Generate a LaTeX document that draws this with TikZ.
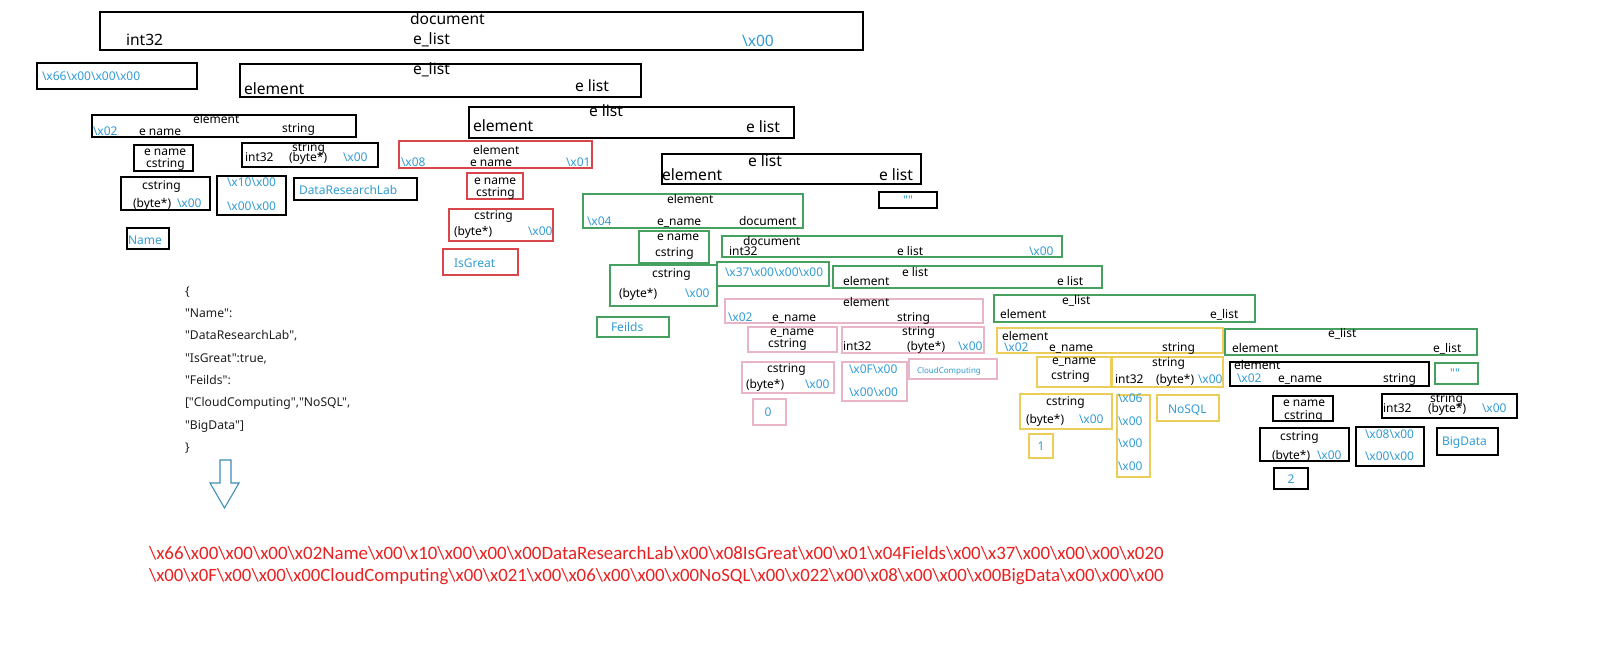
\documentclass[tikz,border=0pt]{standalone}
\usepackage{fontspec}
\usepackage{graphicx}
\setmainfont{Noto Sans}[Ligatures=TeXOff]
\newfontfamily\redfont{Carlito}
\usetikzlibrary{fit}
\definecolor{cblue}{RGB}{50,155,210}
\definecolor{cred}{RGB}{215,70,75}
\definecolor{cgreen}{RGB}{70,160,95}
\definecolor{cpink}{RGB}{232,180,200}
\definecolor{cyel}{RGB}{236,205,90}
\definecolor{ctxt}{RGB}{232,32,32}
\definecolor{carrow}{RGB}{60,140,185}
\definecolor{cjson}{RGB}{30,30,30}
\newcommand\hx[1]{\textbackslash x#1}
\tikzset{
  bx/.style={draw, line width=0.9pt, inner sep=0pt, outer sep=0pt},
  rb/.style={bx, draw=cred},
  gb/.style={bx, draw=cgreen},
  pb/.style={bx, draw=cpink},
  yb/.style={bx, draw=cyel},
  tx/.style={anchor=mid west, inner sep=0pt, outer sep=0pt},
  big/.style={tx, font=\fontsize{11.7}{14}\selectfont},
  med/.style={tx, font=\fontsize{9}{11}\selectfont},
  sm/.style={tx, font=\fontsize{6}{7}\selectfont},
  hb/.style={text=cblue},
  cc/.style={anchor=center},
  js/.style={tx, text=cjson, font=\fontsize{9.1}{10}\selectfont},
}
\begin{document}
\begin{tikzpicture}[x=0.75pt,y=-0.75pt]
\useasboundingbox (0,0) rectangle (1615,651);
% ---- level 0
\node[bx, fit={(100,12)(863,50)}] (B1) {};
\node[big] (t1a) at (410,21) {document};
\node[big] (t1b) at (413,41) {e\_list};
\node[big] (t1c) at (126,42) {int32};
\node[big,hb] (t1d) at (742,43) {\hx{00}};
\node[bx, fit={(37,63)(197,89)}] (B2) {};
\node[med,hb] (t2a) at (42,77) {\hx{66}\hx{00}\hx{00}\hx{00}};
\node[bx, fit={(240,64)(641,97)}] (B3) {};
\node[big] (t3a) at (413,71) {e\_list};
\node[big] (t3b) at (244,91) {element};
\node[big] (t3c) at (575,88) {e list};
% ---- Name element
\node[bx, fit={(92,115)(356,137)}] (B4) {};
\node[med] (t4a) at (193,120) {element};
\node[med,hb] (t4b) at (93,132) {\hx{02}};
\node[med] (t4c) at (139,132) {e name};
\node[med] (t4d) at (282,129) {string};
\node[bx, fit={(134,145)(193,171)}] (B5) {};
\node[med] (t5a) at (144,152) {e name};
\node[med] (t5b) at (146,164) {cstring};
\node[bx, fit={(242,143)(378,167)}] (B6) {};
\node[med] (t6a) at (292,148) {string};
\node[med] (t6b) at (245,158) {int32};
\node[med] (t6c) at (289,158) {(byte*)};
\node[med,hb] (t6d) at (343,158) {\hx{00}};
\node[bx, fit={(121,177)(210,210)}] (B7) {};
\node[med] (t7a) at (142,186) {cstring};
\node[med] (t7b) at (133,204) {(byte*)};
\node[med,hb] (t7c) at (177,204) {\hx{00}};
\node[bx, fit={(217,176)(286,215)}] (B8) {};
\node[med,hb] (t8a) at (227,183) {\hx{10}\hx{00}};
\node[med,hb] (t8b) at (227,207) {\hx{00}\hx{00}};
\node[bx, fit={(294,178)(417,200)}] (B9) {};
\node[med,hb] (t9a) at (299,191) {DataResearchLab};
\node[bx, fit={(127,228)(169,249)}] (B10) {};
\node[med,hb] (t10a) at (128,241) {Name};
% ---- IsGreat element
\node[bx, fit={(469,107)(794,138)}] (B11) {};
\node[big] (t11a) at (589,113) {e list};
\node[big] (t11b) at (473,128) {element};
\node[big] (t11c) at (746,129) {e list};
\node[rb, fit={(399,141)(592,168)}] (B12) {};
\node[med] (t12a) at (473,151) {element};
\node[med,hb] (t12b) at (401,163) {\hx{08}};
\node[med] (t12c) at (470,163) {e name};
\node[med,hb] (t12d) at (566,163) {\hx{01}};
\node[rb, fit={(467,173)(523,199)}] (B13) {};
\node[med] (t13a) at (474,181) {e name};
\node[med] (t13b) at (476,193) {cstring};
\node[rb, fit={(449,209)(553,241)}] (B14) {};
\node[med] (t14a) at (474,216) {cstring};
\node[med] (t14b) at (454,232) {(byte*)};
\node[med,hb] (t14c) at (528,232) {\hx{00}};
\node[rb, fit={(443,249)(518,275)}] (B15) {};
\node[med,hb] (t15a) at (454,264) {IsGreat};
% ---- Feilds element
\node[bx, fit={(662,154)(921,184)}] (B16) {};
\node[big] (t16a) at (748,163) {e list};
\node[big] (t16b) at (662,177) {element};
\node[big] (t16c) at (879,177) {e list};
\node[bx, fit={(879,192)(937,208)}] (B17) {};
\node[med,hb,cc] (t17a) at (908,200) {""};
\node[gb, fit={(583,194)(803,228)}] (B18) {};
\node[med] (t18a) at (667,200) {element};
\node[med,hb] (t18b) at (587,222) {\hx{04}};
\node[med] (t18c) at (657,222) {e\_name};
\node[med] (t18d) at (739,222) {document};
\node[gb, fit={(639,231)(709,263)}] (B19) {};
\node[med] (t19a) at (657,237) {e name};
\node[med] (t19b) at (655,253) {cstring};
\node[gb, fit={(722,236)(1062,257)}] (B20) {};
\node[med] (t20a) at (743,242) {document};
\node[med] (t20b) at (729,252) {int32};
\node[med] (t20c) at (897,252) {e list};
\node[med,hb] (t20d) at (1029,252) {\hx{00}};
\node[gb, fit={(610,265)(717,306)}] (B21) {};
\node[med] (t21a) at (652,274) {cstring};
\node[med] (t21b) at (619,294) {(byte*)};
\node[med,hb] (t21c) at (685,294) {\hx{00}};
\node[gb, fit={(717,262)(829,286)}] (B22) {};
\node[med,hb] (t22a) at (725,273) {\hx{37}\hx{00}\hx{00}\hx{00}};
\node[gb, fit={(833,266)(1102,288)}] (B23) {};
\node[med] (t23a) at (902,273) {e list};
\node[med] (t23b) at (843,282) {element};
\node[med] (t23c) at (1057,282) {e list};
\node[gb, fit={(597,317)(669,337)}] (B24) {};
\node[med,hb] (t24a) at (611,328) {Feilds};
% ---- CloudComputing
\node[pb, fit={(725,299)(983,323)}] (B25) {};
\node[med] (t25a) at (843,303) {element};
\node[med,hb] (t25b) at (728,318) {\hx{02}};
\node[med] (t25c) at (772,318) {e\_name};
\node[med] (t25d) at (897,318) {string};
\node[pb, fit={(748,327)(837,352)}] (B26) {};
\node[med] (t26a) at (770,332) {e\_name};
\node[med] (t26b) at (768,344) {cstring};
\node[pb, fit={(842,327)(984,353)}] (B27) {};
\node[med] (t27a) at (902,332) {string};
\node[med] (t27b) at (843,347) {int32};
\node[med] (t27c) at (907,347) {(byte*)};
\node[med,hb] (t27d) at (958,347) {\hx{00}};
\node[pb, fit={(742,362)(834,393)}] (B28) {};
\node[med] (t28a) at (767,369) {cstring};
\node[med] (t28b) at (746,385) {(byte*)};
\node[med,hb] (t28c) at (805,385) {\hx{00}};
\node[pb, fit={(842,362)(907,401)}] (B29) {};
\node[med,hb] (t29a) at (849,370) {\hx{0F}\hx{00}};
\node[med,hb] (t29b) at (849,393) {\hx{00}\hx{00}};
\node[pb, fit={(909,359)(997,379)}] (B30) {};
\node[sm,hb] (t30a) at (917,370) {CloudComputing};
\node[pb, fit={(753,399)(786,425)}] (B31) {};
\node[med,hb,cc] (t31a) at (768,412) {0};
% ---- NoSQL
\node[gb, fit={(994,295)(1255,322)}] (B32) {};
\node[med] (t32a) at (1062,301) {e\_list};
\node[med] (t32b) at (1000,315) {element};
\node[med] (t32c) at (1210,315) {e\_list};
\node[yb, fit={(997,328)(1223,353)}] (B33) {};
\node[med] (t33a) at (1002,337) {element};
\node[med,hb] (t33b) at (1004,348) {\hx{02}};
\node[med] (t33c) at (1049,348) {e\_name};
\node[med] (t33d) at (1162,348) {string};
\node[yb, fit={(1037,357)(1111,387)}] (B34) {};
\node[med] (t34a) at (1052,361) {e\_name};
\node[med] (t34b) at (1051,376) {cstring};
\node[yb, fit={(1112,357)(1223,387)}] (B35) {};
\node[med] (t35a) at (1152,363) {string};
\node[med] (t35b) at (1115,380) {int32};
\node[med] (t35c) at (1156,380) {(byte*)};
\node[med,hb] (t35d) at (1198,380) {\hx{00}};
\node[yb, fit={(1020,394)(1112,429)}] (B36) {};
\node[med] (t36a) at (1046,402) {cstring};
\node[med] (t36b) at (1026,420) {(byte*)};
\node[med,hb] (t36c) at (1079,420) {\hx{00}};
\node[yb, fit={(1117,395)(1150,477)}] (B37) {};
\node[med,hb] (t37a) at (1118,399) {\hx{06}};
\node[med,hb] (t37b) at (1118,422) {\hx{00}};
\node[med,hb] (t37c) at (1118,444) {\hx{00}};
\node[med,hb] (t37d) at (1118,467) {\hx{00}};
\node[yb, fit={(1157,395)(1219,421)}] (B38) {};
\node[med,hb] (t38a) at (1168,410) {NoSQL};
\node[yb, fit={(1029,434)(1053,458)}] (B39) {};
\node[med,hb,cc] (t39a) at (1041,446) {1};
% ---- BigData
\node[gb, fit={(1225,329)(1477,355)}] (B40) {};
\node[med] (t40a) at (1328,334) {e\_list};
\node[med] (t40b) at (1232,349) {element};
\node[med] (t40c) at (1433,349) {e\_list};
\node[bx, fit={(1230,362)(1429,386)}] (B41) {};
\node[med] (t41a) at (1234,366) {element};
\node[med,hb] (t41b) at (1237,379) {\hx{02}};
\node[med] (t41c) at (1278,379) {e\_name};
\node[med] (t41d) at (1383,379) {string};
\node[gb, fit={(1435,363)(1478,384)}] (B42) {};
\node[med,hb,cc] (t42a) at (1455,373) {""};
\node[bx, fit={(1273,396)(1333,421)}] (B43) {};
\node[med] (t43a) at (1283,403) {e name};
\node[med] (t43b) at (1284,416) {cstring};
\node[bx, fit={(1382,394)(1517,418)}] (B44) {};
\node[med] (t44a) at (1430,399) {string};
\node[med] (t44b) at (1383,409) {int32};
\node[med] (t44c) at (1428,409) {(byte*)};
\node[med,hb] (t44d) at (1482,409) {\hx{00}};
\node[bx, fit={(1260,428)(1349,461)}] (B45) {};
\node[med] (t45a) at (1280,437) {cstring};
\node[med] (t45b) at (1272,456) {(byte*)};
\node[med,hb] (t45c) at (1317,456) {\hx{00}};
\node[bx, fit={(1356,427)(1424,466)}] (B46) {};
\node[med,hb] (t46a) at (1365,435) {\hx{08}\hx{00}};
\node[med,hb] (t46b) at (1365,457) {\hx{00}\hx{00}};
\node[bx, fit={(1437,428)(1498,455)}] (B47) {};
\node[med,hb] (t47a) at (1442,442) {BigData};
\node[bx, fit={(1274,468)(1308,489)}] (B48) {};
\node[med,hb,cc] (t48a) at (1291,479) {2};
% ---- JSON source
\node[js] (j1) at (185,292) {\{};
\node[js] (j2) at (185,314) {"Name":};
\node[js] (j3) at (185,336) {"DataResearchLab",};
\node[js] (j4) at (185,359) {"IsGreat":true,};
\node[js] (j5) at (185,381) {"Feilds":};
\node[js] (j6) at (185,403) {["CloudComputing","NoSQL",};
\node[js] (j7) at (185,426) {"BigData"]};
\node[js] (j8) at (185,448) {\}};
% ---- hollow arrow
\draw[carrow, line width=0.8pt, line join=miter]
  (220,460) -- (231,460) -- (231,483) -- (239,483) -- (224.5,508)
  -- (210,483) -- (220,483) -- cycle;
% ---- BSON bytes
\node[tx, text=ctxt, font=\redfont\fontsize{14}{16}\selectfont] (r1) at (149,556)
  {\resizebox{761pt}{!}{\hx{66}\hx{00}\hx{00}\hx{00}\hx{02}Name\hx{00}\hx{10}\hx{00}\hx{00}\hx{00}DataResearchLab\hx{00}\hx{08}IsGreat\hx{00}\hx{01}\hx{04}Fields\hx{00}\hx{37}\hx{00}\hx{00}\hx{00}\hx{02}0}};
\node[tx, text=ctxt, font=\redfont\fontsize{14}{16}\selectfont] (r2) at (149,578)
  {\resizebox{761pt}{!}{\hx{00}\hx{0F}\hx{00}\hx{00}\hx{00}CloudComputing\hx{00}\hx{02}1\hx{00}\hx{06}\hx{00}\hx{00}\hx{00}NoSQL\hx{00}\hx{02}2\hx{00}\hx{08}\hx{00}\hx{00}\hx{00}BigData\hx{00}\hx{00}\hx{00}}};
\end{tikzpicture}
\end{document}
